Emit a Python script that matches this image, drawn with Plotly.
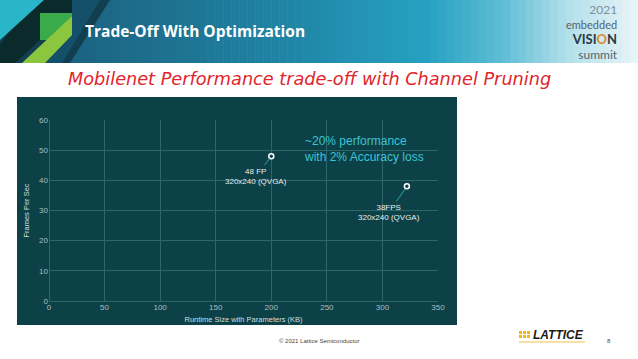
import plotly.graph_objects as go

# ---- data ----
runtime_kb = [200, 322]
fps = [48, 38]
point_labels = ["48 FP<br>320x240 (QVGA)", "38FPS<br>320x240 (QVGA)"]
label_offsets = [(-15, 20), (-18, 26)]
x_ticks = [0, 50, 100, 150, 200, 250, 300, 350]
y_ticks = [0, 10, 20, 30, 40, 50, 60]

W, H = 638, 359
L, R, T, B = 49, 200, 120, 58
PW, PH = W - L - R, H - T - B

def px(x):
    return (x - L) / PW

def py(y):
    return (H - B - y) / PH

PANEL = "#0d4148"
GRID = "#2c676b"

shapes = []

# banner gradient
def lerp(c1, c2, f):
    a = [int(c1[i:i + 2], 16) for i in (1, 3, 5)]
    b = [int(c2[i:i + 2], 16) for i in (1, 3, 5)]
    return "#%02x%02x%02x" % tuple(round(a[k] + (b[k] - a[k]) * f) for k in range(3))

stops = [(0, "#1a5a74"), (120, "#1d6a88"), (300, "#2087a8"), (430, "#27a2c2"),
         (500, "#5cbcd4"), (570, "#b4e0eb"), (638, "#e8f5f8")]
n = 80
for i in range(n):
    x0 = W * i / n
    x1 = W * (i + 1) / n + 0.6
    xm = (x0 + x1) / 2
    col = stops[-1][1]
    for j in range(len(stops) - 1):
        if stops[j][0] <= xm <= stops[j + 1][0]:
            f = (xm - stops[j][0]) / (stops[j + 1][0] - stops[j][0])
            col = lerp(stops[j][1], stops[j + 1][1], f)
            break
    shapes.append(dict(type="rect", xref="paper", yref="paper", layer="below",
                       x0=px(x0), x1=px(x1), y0=py(63), y1=py(0),
                       fillcolor=col, line=dict(width=0)))

def poly(pts, color):
    d = "M " + " L ".join(f"{px(a):.5f},{py(b):.5f}" for a, b in pts) + " Z"
    shapes.append(dict(type="path", xref="paper", yref="paper", layer="below",
                       path=d, fillcolor=color, line=dict(width=0)))

# left decoration
poly([(0, 0), (110, 0), (70, 63), (0, 63)], "#123f50")
poly([(72, 0), (100, 0), (62, 63), (34, 63)], "#15506a")
poly([(30, 0), (72, 0), (72, 13), (40, 13), (40, 40), (15, 63), (0, 63), (0, 45)], "#0a2a2c")
poly([(0, 0), (44, 0), (0, 40)], "#29b6c8")
poly([(40, 13), (72, 13), (72, 16), (55, 40), (40, 40)], "#3aaa4a")
poly([(72, 16), (72, 35), (45, 63), (22, 63)], "#8cc63f")

# chart panel
shapes.append(dict(type="rect", xref="paper", yref="paper", layer="below",
                   x0=px(17), x1=px(457), y0=py(325), y1=py(97),
                   fillcolor=PANEL, line=dict(width=0)))

# lattice logo squares
for r_ in range(2):
    for c_ in range(3):
        x0 = 519 + c_ * 4
        y0 = 331 + r_ * 4
        shapes.append(dict(type="rect", xref="paper", yref="paper",
                           x0=px(x0), x1=px(x0 + 3), y0=py(y0 + 3), y1=py(y0),
                           fillcolor="#f2b51c", line=dict(width=0)))
shapes.append(dict(type="rect", xref="paper", yref="paper",
                   x0=px(519), x1=px(585), y0=py(342.5), y1=py(341.5),
                   fillcolor="#f2c44a", line=dict(width=0)))

fig = go.Figure()
fig.add_trace(go.Scatter(
    x=runtime_kb, y=fps, mode="markers",
    marker=dict(symbol="circle", size=5, color=PANEL,
                line=dict(color="#ffffff", width=1.5)),
    hoverinfo="skip", showlegend=False))

ann = []
for xv, yv, txt, (ax, ay) in zip(runtime_kb, fps, point_labels, label_offsets):
    ann.append(dict(x=xv, y=yv, xref="x", yref="y", text=txt, showarrow=True,
                    arrowhead=0, arrowwidth=1, arrowcolor="#2fa3a8", ax=ax, ay=ay,
                    standoff=3, font=dict(family="Liberation Sans", size=8, color="#e6eeee"),
                    align="center"))

ann.append(dict(x=px(302), y=py(149), xref="paper", yref="paper", xanchor="left",
                yanchor="middle", showarrow=False, align="left",
                text="~20% performance<br>with 2% Accuracy loss",
                font=dict(family="Liberation Sans", size=12, color="#3cc3d2")))

# slide texts
ann.append(dict(x=px(83), y=py(31), xref="paper", yref="paper", xanchor="left",
                yanchor="middle", showarrow=False, text="<b>Trade-Off With Optimization</b>",
                font=dict(family="Open Sans", size=15.5, color="#ffffff")))
ann.append(dict(x=px(309), y=py(79), xref="paper", yref="paper", xanchor="center",
                yanchor="middle", showarrow=False,
                text="<i>Mobilenet Performance trade-off with Channel Pruning</i>",
                font=dict(family="DejaVu Sans", size=17.7, color="#e2242b")))
logo_text = ("<span style='font-size:12px;color:#7d8d9b'>2021</span><br>"
             "<span style='font-size:11px'>embedded</span><br>"
             "<span style='font-size:13px;color:#2b3945'><b>VISI"
             "<span style='color:#e0892c'>O</span>N</b></span><br>"
             "<span style='font-size:12px'>summit</span>")
ann.append(dict(x=px(620), y=py(32), xref="paper", yref="paper", xanchor="right",
                yanchor="middle", showarrow=False, align="right", text=logo_text,
                font=dict(family="Lato", size=11.5, color="#55646f")))
ann.append(dict(x=px(319), y=py(341), xref="paper", yref="paper", xanchor="center",
                yanchor="middle", showarrow=False, text="© 2021 Lattice Semiconductor",
                font=dict(family="Liberation Sans", size=6, color="#444444")))
ann.append(dict(x=px(531), y=py(335), xref="paper", yref="paper", xanchor="left",
                yanchor="middle", showarrow=False, text="<b><i>LATTICE</i></b>",
                font=dict(family="Liberation Sans", size=12, color="#1a1a1a")))
ann.append(dict(x=px(609), y=py(341), xref="paper", yref="paper", xanchor="center",
                yanchor="middle", showarrow=False, text="8",
                font=dict(family="Liberation Sans", size=6, color="#444444")))

axis_common = dict(showgrid=True, gridcolor=GRID, gridwidth=1, zeroline=True,
                   zerolinecolor=GRID, zerolinewidth=1, showline=False, ticks="",
                   tickfont=dict(family="Liberation Sans", size=8, color="#a9bfc0"))

fig.update_layout(
    width=W, height=H, margin=dict(l=L, r=R, t=T, b=B, pad=0),
    paper_bgcolor="#ffffff", plot_bgcolor=PANEL,
    shapes=shapes, annotations=ann, showlegend=False,
    xaxis=dict(range=[0, 350], tickvals=x_ticks, **axis_common,
               title=dict(text="Runtime Size with Parameters (KB)", standoff=5,
                          font=dict(family="Liberation Sans", size=7.5, color="#d3dede"))),
    yaxis=dict(range=[0, 60], tickvals=y_ticks, **axis_common,
               title=dict(text="Frames Per Sec", standoff=8,
                          font=dict(family="Liberation Sans", size=7.5, color="#d3dede"))),
)

fig.write_html("out.html", config={"displayModeBar": False},
               post_script="document.body.style.margin='0';")
